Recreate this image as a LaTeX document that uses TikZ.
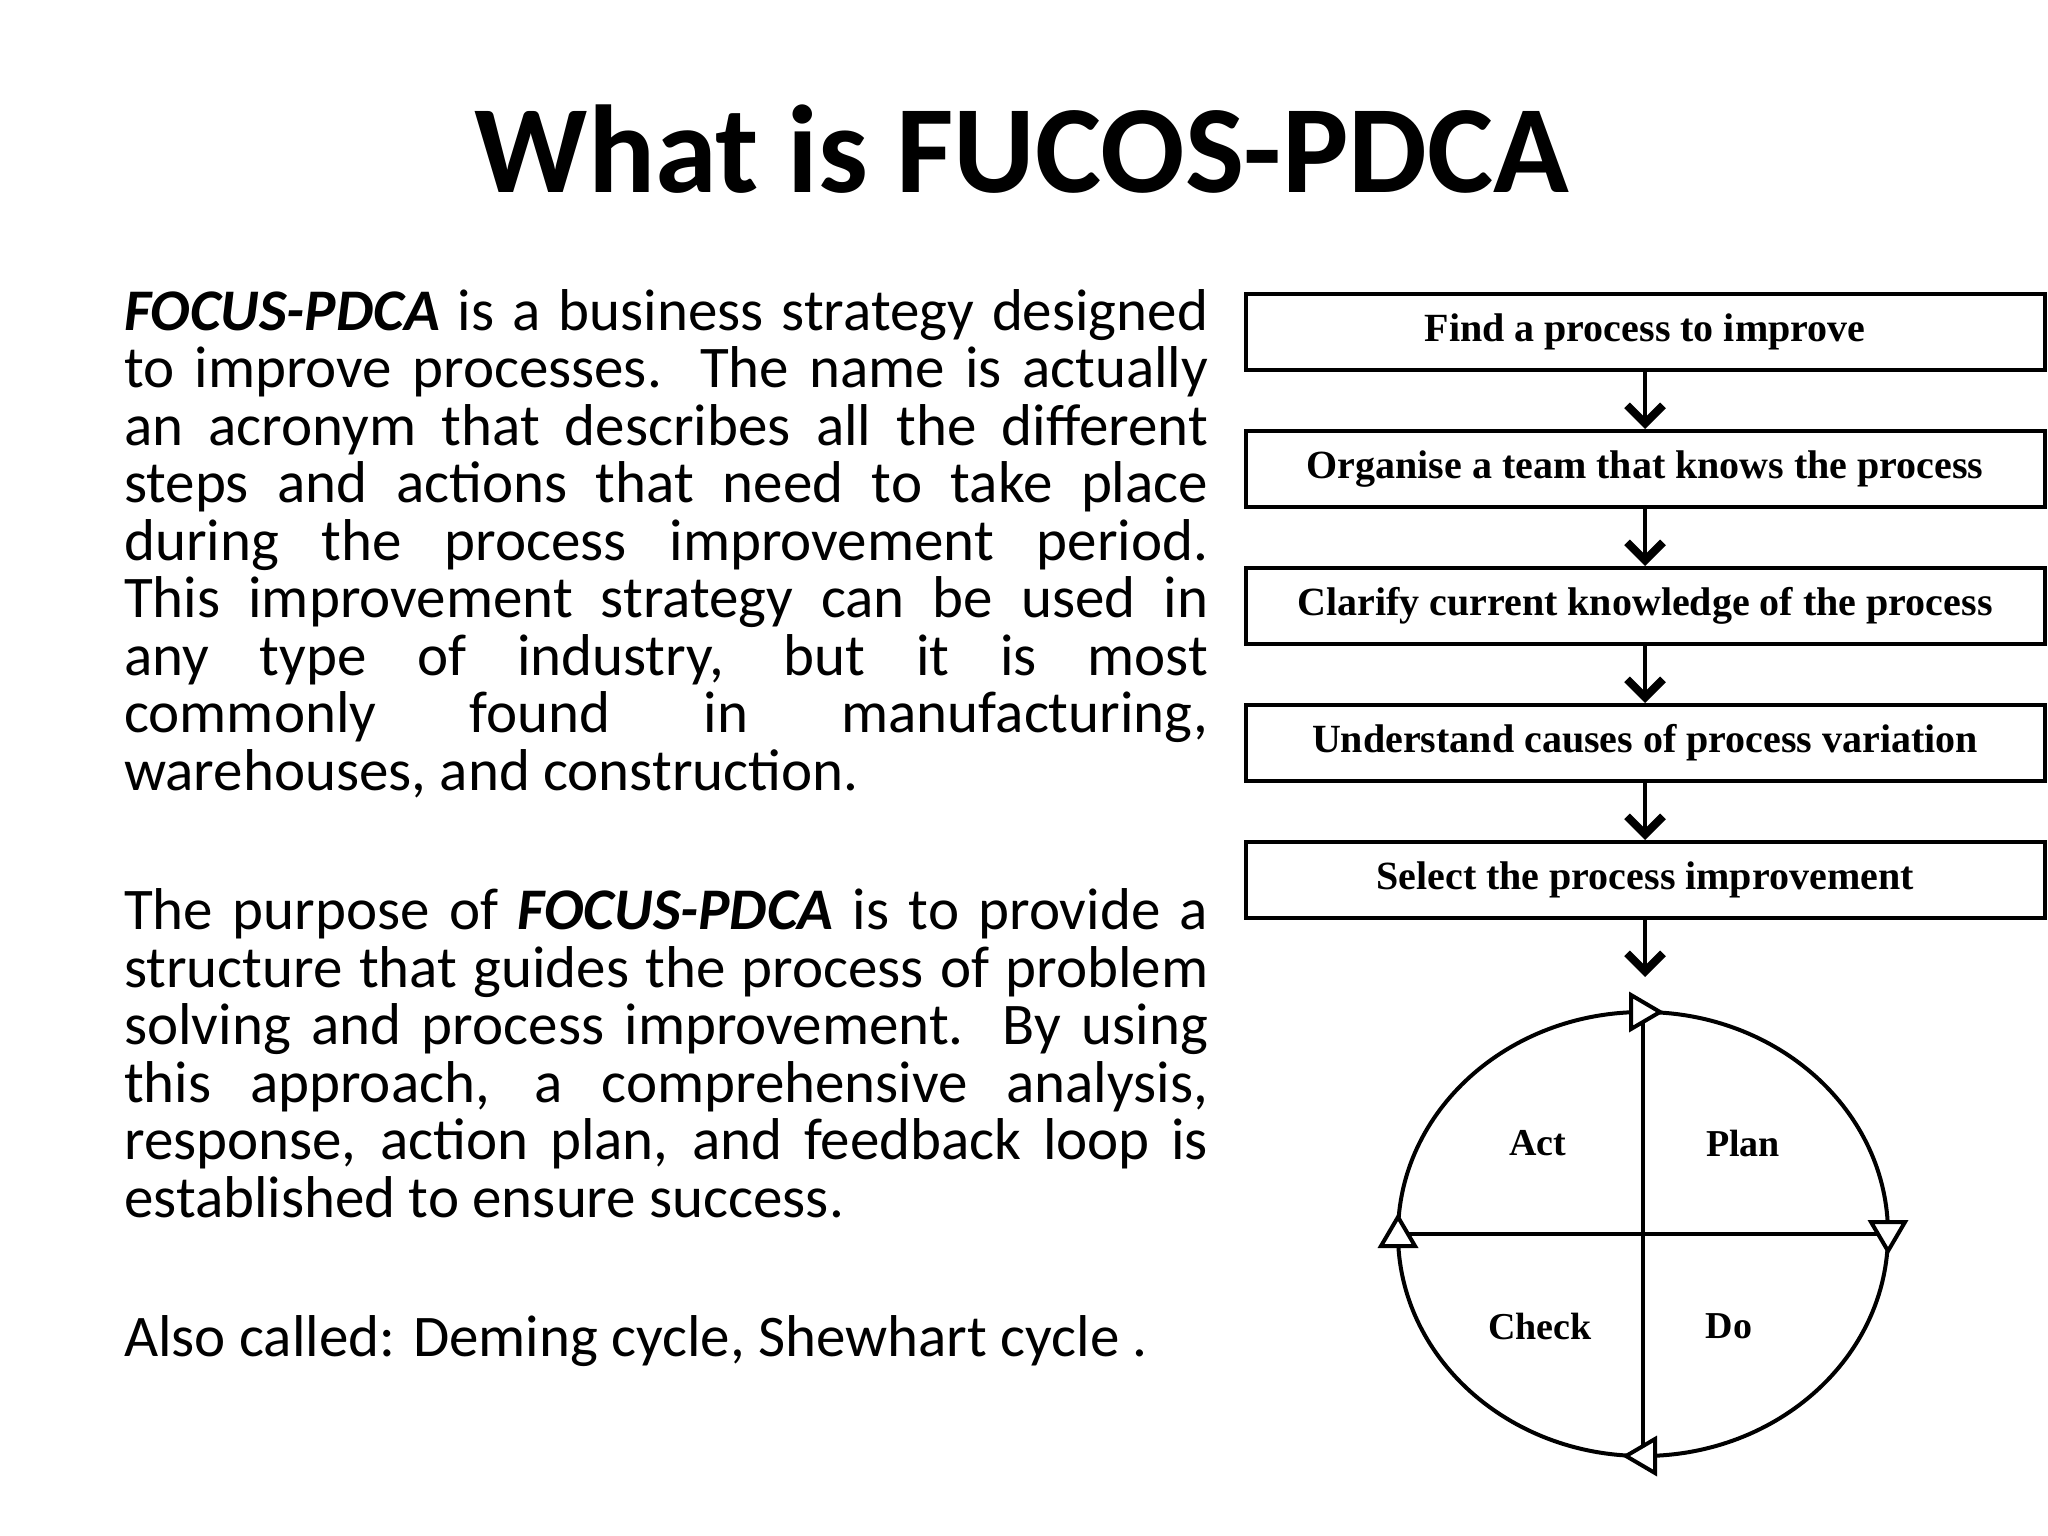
\documentclass[tikz,border=0pt]{standalone}
\usepackage{fontspec}
\setmainfont{Carlito}
\newfontfamily\boxfont{Liberation Serif}
\usetikzlibrary{arrows.meta}
\begin{document}
\begin{tikzpicture}[x=1pt,y=-1pt,
  stepbox/.style={draw,line width=4pt,minimum width=799pt,minimum height=76pt,inner sep=0pt,font=\boxfont\bfseries\fontsize{40}{44}\selectfont},
  flow/.style={line width=4pt,-{Straight Barb[length=18pt,width=36pt,line width=8pt]}},
  lab/.style={font=\boxfont\bfseries\fontsize{38}{44}\selectfont},
  tri/.style={draw,line width=4pt,fill=white,line join=miter}]
\useasboundingbox (0,0) rectangle (2048,1536);
\node[font=\bfseries\fontsize{125}{135}\selectfont,anchor=base] (title) at (1022,193) {What is FUCOS-PDCA};
\node[anchor=north west,inner sep=0pt,text width=1084pt,align=justify,font=\fontsize{59}{57.5}\selectfont] (txt) at (124,289) {%
\textbf{\textit{FOCUS-PDCA}} is a business strategy designed\linebreak
to improve processes. The name is actually\linebreak
an acronym that describes all the different\linebreak
steps and actions that need to take place\linebreak
during the process improvement period.\linebreak
This improvement strategy can be used in\linebreak
any type of industry, but it is most\linebreak
commonly found in manufacturing,\linebreak
warehouses, and construction.\par
\vspace{82pt}
The purpose of \textbf{\textit{FOCUS-PDCA}} is to provide a\linebreak
structure that guides the process of problem\linebreak
solving and process improvement. By using\linebreak
this approach, a comprehensive analysis,\linebreak
response, action plan, and feedback loop is\linebreak
established to ensure success.\par
\vspace{82pt}
Also called: Deming cycle, Shewhart cycle .};
\node[stepbox] (b1) at (1645,332) {Find a process to improve};
\node[stepbox] (b2) at (1645,469) {Organise a team that knows the process};
\node[stepbox] (b3) at (1645,606) {Clarify current knowledge of the process};
\node[stepbox] (b4) at (1645,743) {Understand causes of process variation};
\node[stepbox] (b5) at (1645,880) {Select the process improvement};
\coordinate (a5) at (1645,977);
\draw[flow] (b1) -- (b2);
\draw[flow] (b2) -- (b3);
\draw[flow] (b3) -- (b4);
\draw[flow] (b4) -- (b5);
\draw[flow] (b5.south) -- (a5);
% cycle
\coordinate (cc) at (1643,1234);
\coordinate (ct) at (1643,1012);
\coordinate (cb) at (1643,1456);
\coordinate (cl) at (1398,1234);
\coordinate (cr) at (1888,1234);
\draw[line width=4pt] (cc) ellipse [x radius=245, y radius=222];
\draw[line width=3.5pt] (ct) -- (cb);
\draw[line width=3.5pt] (cl) -- (cr);
\node[lab] (act) at (1538,1143) {Act};
\node[lab] (plan) at (1743,1143) {Plan};
\node[lab] (check) at (1540,1326) {Check};
\node[lab] (do) at (1729,1326) {Do};
% triangles
\draw[tri] (1631,995) -- (1660,1012) -- (1631,1029) -- cycle;
\draw[tri] (1871,1222) -- (1905,1222) -- (1888,1251) -- cycle;
\draw[tri] (1655,1439) -- (1626,1456) -- (1655,1473) -- cycle;
\draw[tri] (1381,1246) -- (1415,1246) -- (1398,1217) -- cycle;
\end{tikzpicture}
\end{document}
